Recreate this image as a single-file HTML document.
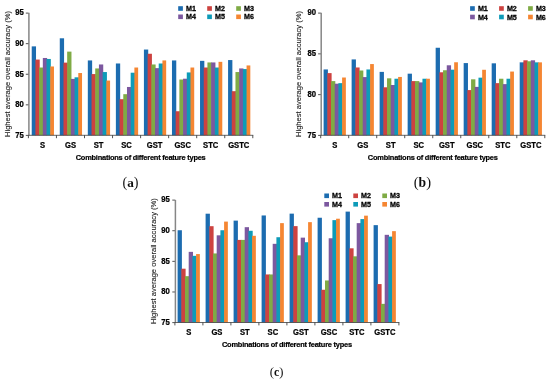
<!DOCTYPE html>
<html lang="en">
<head>
<meta charset="utf-8">
<title>Highest average overall accuracy for combinations of different feature types</title>
<style>
html,body{margin:0;padding:0;background:#fff;}
body{width:550px;height:383px;overflow:hidden;}
svg{display:block;}
text{font-family:"Liberation Sans", Arial, Helvetica, sans-serif;fill:#000;}
.tk{font-size:8.4px;font-weight:bold;stroke:#000;stroke-width:0.24px;}
.ct{font-size:8.3px;font-weight:bold;stroke:#000;stroke-width:0.24px;}
.xt{font-size:8.1px;font-weight:bold;stroke:#000;stroke-width:0.22px;letter-spacing:-0.25px;}
.yt{font-size:7.58px;fill:#222;stroke:#222;stroke-width:0.12px;}
.lg{font-size:7.8px;font-weight:bold;stroke:#000;stroke-width:0.3px;}
.cp{font-family:"Liberation Serif", "Times New Roman", serif;fill:#111;}
.pr{font-size:1.07em;}
</style>
</head>
<body>
<svg width="550" height="383" viewBox="0 0 550 383">
<defs><filter id="soft" x="0" y="0" width="550" height="383" filterUnits="userSpaceOnUse"><feGaussianBlur stdDeviation="0.36"/></filter></defs>
<rect width="550" height="383" fill="#ffffff"/>
<g filter="url(#soft)">
<g>
<rect x="31.72" y="46.37" width="4.3" height="89.03" fill="#1c6cb0"/>
<rect x="35.42" y="59.57" width="4.3" height="75.83" fill="#cd423f"/>
<rect x="39.12" y="67.52" width="4.3" height="67.88" fill="#7fab44"/>
<rect x="42.83" y="57.98" width="4.3" height="77.42" fill="#7b589f"/>
<rect x="46.52" y="58.96" width="4.3" height="76.44" fill="#119bb8"/>
<rect x="50.22" y="66.48" width="3.75" height="68.92" fill="#f58632"/>
<rect x="59.77" y="38.29" width="4.3" height="97.11" fill="#1c6cb0"/>
<rect x="63.48" y="62.63" width="4.3" height="72.77" fill="#cd423f"/>
<rect x="67.17" y="51.62" width="4.3" height="83.78" fill="#7fab44"/>
<rect x="70.88" y="78.9" width="4.3" height="56.5" fill="#7b589f"/>
<rect x="74.58" y="77.31" width="4.3" height="58.09" fill="#119bb8"/>
<rect x="78.28" y="73.03" width="3.75" height="62.37" fill="#f58632"/>
<rect x="87.83" y="60.43" width="4.3" height="74.97" fill="#1c6cb0"/>
<rect x="91.53" y="74.07" width="4.3" height="61.33" fill="#cd423f"/>
<rect x="95.23" y="68.44" width="4.3" height="66.96" fill="#7fab44"/>
<rect x="98.93" y="64.47" width="4.3" height="70.93" fill="#7b589f"/>
<rect x="102.62" y="72.05" width="4.3" height="63.35" fill="#119bb8"/>
<rect x="106.33" y="80.55" width="3.75" height="54.85" fill="#f58632"/>
<rect x="115.88" y="63.49" width="4.3" height="71.91" fill="#1c6cb0"/>
<rect x="119.58" y="99.2" width="4.3" height="36.2" fill="#cd423f"/>
<rect x="123.28" y="94.18" width="4.3" height="41.22" fill="#7fab44"/>
<rect x="126.98" y="86.97" width="4.3" height="48.43" fill="#7b589f"/>
<rect x="130.68" y="72.72" width="4.3" height="62.68" fill="#119bb8"/>
<rect x="134.38" y="67.52" width="3.75" height="67.88" fill="#f58632"/>
<rect x="143.92" y="49.55" width="4.3" height="85.85" fill="#1c6cb0"/>
<rect x="147.62" y="53.76" width="4.3" height="81.64" fill="#cd423f"/>
<rect x="151.32" y="64.47" width="4.3" height="70.93" fill="#7fab44"/>
<rect x="155.02" y="68.14" width="4.3" height="67.27" fill="#7b589f"/>
<rect x="158.72" y="63.49" width="4.3" height="71.91" fill="#119bb8"/>
<rect x="162.42" y="60.43" width="3.75" height="74.97" fill="#f58632"/>
<rect x="171.97" y="60.43" width="4.3" height="74.97" fill="#1c6cb0"/>
<rect x="175.67" y="111.25" width="4.3" height="24.15" fill="#cd423f"/>
<rect x="179.38" y="79.51" width="4.3" height="55.89" fill="#7fab44"/>
<rect x="183.07" y="78.71" width="4.3" height="56.69" fill="#7b589f"/>
<rect x="186.78" y="72.42" width="4.3" height="62.98" fill="#119bb8"/>
<rect x="190.47" y="67.52" width="3.75" height="67.88" fill="#f58632"/>
<rect x="200.03" y="60.86" width="4.3" height="74.54" fill="#1c6cb0"/>
<rect x="203.72" y="67.52" width="4.3" height="67.88" fill="#cd423f"/>
<rect x="207.43" y="62.45" width="4.3" height="72.95" fill="#7fab44"/>
<rect x="211.12" y="62.45" width="4.3" height="72.95" fill="#7b589f"/>
<rect x="214.83" y="67.52" width="4.3" height="67.88" fill="#119bb8"/>
<rect x="218.53" y="61.84" width="3.75" height="73.56" fill="#f58632"/>
<rect x="228.07" y="60.06" width="4.3" height="75.34" fill="#1c6cb0"/>
<rect x="231.77" y="91.19" width="4.3" height="44.21" fill="#cd423f"/>
<rect x="235.47" y="72.05" width="4.3" height="63.35" fill="#7fab44"/>
<rect x="239.17" y="68.44" width="4.3" height="66.96" fill="#7b589f"/>
<rect x="242.88" y="69.05" width="4.3" height="66.35" fill="#119bb8"/>
<rect x="246.57" y="65.44" width="3.75" height="69.96" fill="#f58632"/>
<path d="M28.9 12.8V135.6" fill="none" stroke="#868686" stroke-width="1.5"/>
<path d="M28.2 135.3H253.2" fill="none" stroke="#4a4a4a" stroke-width="0.85"/>
<text transform="translate(23.9 137.7) scale(0.92 1)" text-anchor="end" class="tk">75</text>
<text transform="translate(23.9 107.12) scale(0.92 1)" text-anchor="end" class="tk">80</text>
<text transform="translate(23.9 76.55) scale(0.92 1)" text-anchor="end" class="tk">85</text>
<text transform="translate(23.9 45.97) scale(0.92 1)" text-anchor="end" class="tk">90</text>
<text transform="translate(23.9 15.4) scale(0.92 1)" text-anchor="end" class="tk">95</text>
<path d="M28.4 135.4h-2.6M28.4 104.83h-2.6M28.4 74.25h-2.6M28.4 43.67h-2.6M28.4 13.1h-2.6M28.4 135.1v3.1M56.45 135.1v3.1M84.5 135.1v3.1M112.55 135.1v3.1M140.6 135.1v3.1M168.65 135.1v3.1M196.7 135.1v3.1M224.75 135.1v3.1M252.8 135.1v3.1" fill="none" stroke="#4a4a4a" stroke-width="0.95"/>
<text transform="translate(42.42 147.5) scale(0.92 1)" text-anchor="middle" class="ct">S</text>
<text transform="translate(70.47 147.5) scale(0.92 1)" text-anchor="middle" class="ct">GS</text>
<text transform="translate(98.53 147.5) scale(0.92 1)" text-anchor="middle" class="ct">ST</text>
<text transform="translate(126.57 147.5) scale(0.92 1)" text-anchor="middle" class="ct">SC</text>
<text transform="translate(154.62 147.5) scale(0.92 1)" text-anchor="middle" class="ct">GST</text>
<text transform="translate(182.68 147.5) scale(0.92 1)" text-anchor="middle" class="ct">GSC</text>
<text transform="translate(210.73 147.5) scale(0.92 1)" text-anchor="middle" class="ct">STC</text>
<text transform="translate(238.78 147.5) scale(0.92 1)" text-anchor="middle" class="ct">GSTC</text>
<text transform="translate(140.6 159.5) scale(0.92 1)" text-anchor="middle" class="xt">Combinations of different feature types</text>
<text transform="translate(9.6 74.05) rotate(-90)" text-anchor="middle" class="yt">Highest average overall accuracy (%)</text>
<rect x="178.2" y="6.2" width="4.7" height="4.6" fill="#1c6cb0"/>
<text transform="translate(186 11) scale(0.92 1)" class="lg">M1</text>
<rect x="207.2" y="6.2" width="4.7" height="4.6" fill="#cd423f"/>
<text transform="translate(215 11) scale(0.92 1)" class="lg">M2</text>
<rect x="236.2" y="6.2" width="4.7" height="4.6" fill="#7fab44"/>
<text transform="translate(244 11) scale(0.92 1)" class="lg">M3</text>
<rect x="178.2" y="14.5" width="4.7" height="4.6" fill="#7b589f"/>
<text transform="translate(186 19.3) scale(0.92 1)" class="lg">M4</text>
<rect x="207.2" y="14.5" width="4.7" height="4.6" fill="#119bb8"/>
<text transform="translate(215 19.3) scale(0.92 1)" class="lg">M5</text>
<rect x="236.2" y="14.5" width="4.7" height="4.6" fill="#f58632"/>
<text transform="translate(244 19.3) scale(0.92 1)" class="lg">M6</text>
<text x="130.5" y="186.6" text-anchor="middle" class="cp" font-size="13.2"><tspan class="pr">(</tspan><tspan font-weight="bold">a</tspan><tspan class="pr">)</tspan></text>
</g>
<g>
<rect x="323.61" y="69.44" width="4.3" height="65.96" fill="#1c6cb0"/>
<rect x="327.31" y="73.11" width="4.3" height="62.29" fill="#cd423f"/>
<rect x="331.01" y="81.1" width="4.3" height="54.3" fill="#7fab44"/>
<rect x="334.71" y="83.71" width="4.3" height="51.69" fill="#7b589f"/>
<rect x="338.41" y="83.14" width="4.3" height="52.26" fill="#119bb8"/>
<rect x="342.11" y="77.51" width="3.75" height="57.89" fill="#f58632"/>
<rect x="351.62" y="59.41" width="4.3" height="75.99" fill="#1c6cb0"/>
<rect x="355.32" y="67.48" width="4.3" height="67.92" fill="#cd423f"/>
<rect x="359.02" y="70.5" width="4.3" height="64.9" fill="#7fab44"/>
<rect x="362.72" y="77.1" width="4.3" height="58.3" fill="#7b589f"/>
<rect x="366.42" y="69.44" width="4.3" height="65.96" fill="#119bb8"/>
<rect x="370.12" y="64.06" width="3.75" height="71.34" fill="#f58632"/>
<rect x="379.63" y="71.89" width="4.3" height="63.51" fill="#1c6cb0"/>
<rect x="383.33" y="87.3" width="4.3" height="48.1" fill="#cd423f"/>
<rect x="387.03" y="78.33" width="4.3" height="57.07" fill="#7fab44"/>
<rect x="390.73" y="85.01" width="4.3" height="50.39" fill="#7b589f"/>
<rect x="394.43" y="78.73" width="4.3" height="56.67" fill="#119bb8"/>
<rect x="398.13" y="76.94" width="3.75" height="58.46" fill="#f58632"/>
<rect x="407.64" y="73.68" width="4.3" height="61.72" fill="#1c6cb0"/>
<rect x="411.34" y="81.1" width="4.3" height="54.3" fill="#cd423f"/>
<rect x="415.04" y="81.1" width="4.3" height="54.3" fill="#7fab44"/>
<rect x="418.74" y="82.4" width="4.3" height="53" fill="#7b589f"/>
<rect x="422.44" y="78.73" width="4.3" height="56.67" fill="#119bb8"/>
<rect x="426.14" y="78.73" width="3.75" height="56.67" fill="#f58632"/>
<rect x="435.66" y="47.75" width="4.3" height="87.65" fill="#1c6cb0"/>
<rect x="439.36" y="72.29" width="4.3" height="63.11" fill="#cd423f"/>
<rect x="443.06" y="70.25" width="4.3" height="65.15" fill="#7fab44"/>
<rect x="446.76" y="65.28" width="4.3" height="70.12" fill="#7b589f"/>
<rect x="450.46" y="69.68" width="4.3" height="65.72" fill="#119bb8"/>
<rect x="454.16" y="62.26" width="3.75" height="73.14" fill="#f58632"/>
<rect x="463.67" y="63.08" width="4.3" height="72.32" fill="#1c6cb0"/>
<rect x="467.37" y="90.07" width="4.3" height="45.33" fill="#cd423f"/>
<rect x="471.07" y="79.31" width="4.3" height="56.09" fill="#7fab44"/>
<rect x="474.77" y="86.89" width="4.3" height="48.51" fill="#7b589f"/>
<rect x="478.47" y="77.67" width="4.3" height="57.73" fill="#119bb8"/>
<rect x="482.17" y="69.77" width="3.75" height="65.63" fill="#f58632"/>
<rect x="491.68" y="63.32" width="4.3" height="72.08" fill="#1c6cb0"/>
<rect x="495.38" y="83.14" width="4.3" height="52.26" fill="#cd423f"/>
<rect x="499.08" y="78.73" width="4.3" height="56.67" fill="#7fab44"/>
<rect x="502.78" y="84.12" width="4.3" height="51.28" fill="#7b589f"/>
<rect x="506.48" y="78.73" width="4.3" height="56.67" fill="#119bb8"/>
<rect x="510.18" y="71.56" width="3.75" height="63.84" fill="#f58632"/>
<rect x="519.69" y="62.35" width="4.3" height="73.05" fill="#1c6cb0"/>
<rect x="523.39" y="60.31" width="4.3" height="75.09" fill="#cd423f"/>
<rect x="527.09" y="61.29" width="4.3" height="74.11" fill="#7fab44"/>
<rect x="530.79" y="60.31" width="4.3" height="75.09" fill="#7b589f"/>
<rect x="534.49" y="62.35" width="4.3" height="73.05" fill="#119bb8"/>
<rect x="538.19" y="62.35" width="3.75" height="73.05" fill="#f58632"/>
<path d="M321.2 12.8V135.6" fill="none" stroke="#868686" stroke-width="1.5"/>
<path d="M320.5 135.3H545.2" fill="none" stroke="#4a4a4a" stroke-width="0.85"/>
<text transform="translate(316 137.7) scale(0.92 1)" text-anchor="end" class="tk">75</text>
<text transform="translate(316 96.93) scale(0.92 1)" text-anchor="end" class="tk">80</text>
<text transform="translate(316 56.17) scale(0.92 1)" text-anchor="end" class="tk">85</text>
<text transform="translate(316 15.4) scale(0.92 1)" text-anchor="end" class="tk">90</text>
<path d="M320.7 135.4h-2.6M320.7 94.63h-2.6M320.7 53.87h-2.6M320.7 13.1h-2.6M320.7 135.1v3.1M348.71 135.1v3.1M376.72 135.1v3.1M404.74 135.1v3.1M432.75 135.1v3.1M460.76 135.1v3.1M488.77 135.1v3.1M516.79 135.1v3.1M544.8 135.1v3.1" fill="none" stroke="#4a4a4a" stroke-width="0.95"/>
<text transform="translate(334.71 147.5) scale(0.92 1)" text-anchor="middle" class="ct">S</text>
<text transform="translate(362.72 147.5) scale(0.92 1)" text-anchor="middle" class="ct">GS</text>
<text transform="translate(390.73 147.5) scale(0.92 1)" text-anchor="middle" class="ct">ST</text>
<text transform="translate(418.74 147.5) scale(0.92 1)" text-anchor="middle" class="ct">SC</text>
<text transform="translate(446.76 147.5) scale(0.92 1)" text-anchor="middle" class="ct">GST</text>
<text transform="translate(474.77 147.5) scale(0.92 1)" text-anchor="middle" class="ct">GSC</text>
<text transform="translate(502.78 147.5) scale(0.92 1)" text-anchor="middle" class="ct">STC</text>
<text transform="translate(530.79 147.5) scale(0.92 1)" text-anchor="middle" class="ct">GSTC</text>
<text transform="translate(432.75 159.5) scale(0.92 1)" text-anchor="middle" class="xt">Combinations of different feature types</text>
<text transform="translate(300.6 74.05) rotate(-90)" text-anchor="middle" class="yt">Highest average overall accuracy (%)</text>
<rect x="470.1" y="6.2" width="4.7" height="4.6" fill="#1c6cb0"/>
<text transform="translate(477.9 11) scale(0.92 1)" class="lg">M1</text>
<rect x="499.1" y="6.2" width="4.7" height="4.6" fill="#cd423f"/>
<text transform="translate(506.9 11) scale(0.92 1)" class="lg">M2</text>
<rect x="528.1" y="6.2" width="4.7" height="4.6" fill="#7fab44"/>
<text transform="translate(535.9 11) scale(0.92 1)" class="lg">M3</text>
<rect x="470.1" y="14.7" width="4.7" height="4.6" fill="#7b589f"/>
<text transform="translate(477.9 19.5) scale(0.92 1)" class="lg">M4</text>
<rect x="499.1" y="14.7" width="4.7" height="4.6" fill="#119bb8"/>
<text transform="translate(506.9 19.5) scale(0.92 1)" class="lg">M5</text>
<rect x="528.1" y="14.7" width="4.7" height="4.6" fill="#f58632"/>
<text transform="translate(535.9 19.5) scale(0.92 1)" class="lg">M6</text>
<text x="422.4" y="186.6" text-anchor="middle" class="cp" font-size="13.6"><tspan class="pr">(</tspan><tspan font-weight="bold">b</tspan><tspan class="pr">)</tspan></text>
</g>
<g>
<rect x="177.6" y="230.24" width="4.3" height="92.37" fill="#1c6cb0"/>
<rect x="181.3" y="268.7" width="4.3" height="53.9" fill="#cd423f"/>
<rect x="185" y="276.17" width="4.3" height="46.43" fill="#7fab44"/>
<rect x="188.7" y="251.86" width="4.3" height="70.74" fill="#7b589f"/>
<rect x="192.4" y="255.84" width="4.3" height="66.76" fill="#119bb8"/>
<rect x="196.1" y="254.06" width="3.75" height="68.54" fill="#f58632"/>
<rect x="205.6" y="213.7" width="4.3" height="108.9" fill="#1c6cb0"/>
<rect x="209.3" y="226.19" width="4.3" height="96.41" fill="#cd423f"/>
<rect x="213" y="253.45" width="4.3" height="69.15" fill="#7fab44"/>
<rect x="216.7" y="235.32" width="4.3" height="87.28" fill="#7b589f"/>
<rect x="220.4" y="230.24" width="4.3" height="92.37" fill="#119bb8"/>
<rect x="224.1" y="221.6" width="3.75" height="101" fill="#f58632"/>
<rect x="233.6" y="220.62" width="4.3" height="101.98" fill="#1c6cb0"/>
<rect x="237.3" y="239.91" width="4.3" height="82.69" fill="#cd423f"/>
<rect x="241" y="239.91" width="4.3" height="82.69" fill="#7fab44"/>
<rect x="244.7" y="227.17" width="4.3" height="95.43" fill="#7b589f"/>
<rect x="248.4" y="230.79" width="4.3" height="91.81" fill="#119bb8"/>
<rect x="252.1" y="235.81" width="3.75" height="86.79" fill="#f58632"/>
<rect x="261.6" y="215.47" width="4.3" height="107.13" fill="#1c6cb0"/>
<rect x="265.3" y="274.46" width="4.3" height="48.14" fill="#cd423f"/>
<rect x="269" y="274.46" width="4.3" height="48.14" fill="#7fab44"/>
<rect x="272.7" y="243.83" width="4.3" height="78.77" fill="#7b589f"/>
<rect x="276.4" y="237.22" width="4.3" height="85.38" fill="#119bb8"/>
<rect x="280.1" y="223.13" width="3.75" height="99.47" fill="#f58632"/>
<rect x="289.6" y="213.64" width="4.3" height="108.96" fill="#1c6cb0"/>
<rect x="293.3" y="226.13" width="4.3" height="96.47" fill="#cd423f"/>
<rect x="297" y="255.35" width="4.3" height="67.25" fill="#7fab44"/>
<rect x="300.7" y="237.65" width="4.3" height="84.95" fill="#7b589f"/>
<rect x="304.4" y="242.24" width="4.3" height="80.36" fill="#119bb8"/>
<rect x="308.1" y="222.15" width="3.75" height="100.45" fill="#f58632"/>
<rect x="317.6" y="217.74" width="4.3" height="104.86" fill="#1c6cb0"/>
<rect x="321.3" y="289.77" width="4.3" height="32.83" fill="#cd423f"/>
<rect x="325" y="280.46" width="4.3" height="42.14" fill="#7fab44"/>
<rect x="328.7" y="238.26" width="4.3" height="84.34" fill="#7b589f"/>
<rect x="332.4" y="220.13" width="4.3" height="102.47" fill="#119bb8"/>
<rect x="336.1" y="218.72" width="3.75" height="103.88" fill="#f58632"/>
<rect x="345.6" y="211.61" width="4.3" height="110.99" fill="#1c6cb0"/>
<rect x="349.3" y="248.3" width="4.3" height="74.3" fill="#cd423f"/>
<rect x="353" y="256.33" width="4.3" height="66.27" fill="#7fab44"/>
<rect x="356.7" y="223.13" width="4.3" height="99.47" fill="#7b589f"/>
<rect x="360.4" y="219.09" width="4.3" height="103.51" fill="#119bb8"/>
<rect x="364.1" y="215.66" width="3.75" height="106.94" fill="#f58632"/>
<rect x="373.6" y="225.15" width="4.3" height="97.45" fill="#1c6cb0"/>
<rect x="377.3" y="284.07" width="4.3" height="38.53" fill="#cd423f"/>
<rect x="381" y="303.86" width="4.3" height="18.74" fill="#7fab44"/>
<rect x="384.7" y="234.83" width="4.3" height="87.77" fill="#7b589f"/>
<rect x="388.4" y="236.6" width="4.3" height="86" fill="#119bb8"/>
<rect x="392.1" y="231.15" width="3.75" height="91.45" fill="#f58632"/>
<path d="M175.4 199.8V322.8" fill="none" stroke="#868686" stroke-width="1.5"/>
<path d="M174.7 322.5H399.3" fill="none" stroke="#4a4a4a" stroke-width="0.85"/>
<text transform="translate(169.9 324.9) scale(0.92 1)" text-anchor="end" class="tk">75</text>
<text transform="translate(169.9 294.28) scale(0.92 1)" text-anchor="end" class="tk">80</text>
<text transform="translate(169.9 263.65) scale(0.92 1)" text-anchor="end" class="tk">85</text>
<text transform="translate(169.9 233.03) scale(0.92 1)" text-anchor="end" class="tk">90</text>
<text transform="translate(169.9 202.4) scale(0.92 1)" text-anchor="end" class="tk">95</text>
<path d="M174.9 322.6h-2.6M174.9 291.98h-2.6M174.9 261.35h-2.6M174.9 230.72h-2.6M174.9 200.1h-2.6M174.9 322.3v3.1M202.9 322.3v3.1M230.9 322.3v3.1M258.9 322.3v3.1M286.9 322.3v3.1M314.9 322.3v3.1M342.9 322.3v3.1M370.9 322.3v3.1M398.9 322.3v3.1" fill="none" stroke="#4a4a4a" stroke-width="0.95"/>
<text transform="translate(188.9 334.7) scale(0.92 1)" text-anchor="middle" class="ct">S</text>
<text transform="translate(216.9 334.7) scale(0.92 1)" text-anchor="middle" class="ct">GS</text>
<text transform="translate(244.9 334.7) scale(0.92 1)" text-anchor="middle" class="ct">ST</text>
<text transform="translate(272.9 334.7) scale(0.92 1)" text-anchor="middle" class="ct">SC</text>
<text transform="translate(300.9 334.7) scale(0.92 1)" text-anchor="middle" class="ct">GST</text>
<text transform="translate(328.9 334.7) scale(0.92 1)" text-anchor="middle" class="ct">GSC</text>
<text transform="translate(356.9 334.7) scale(0.92 1)" text-anchor="middle" class="ct">STC</text>
<text transform="translate(384.9 334.7) scale(0.92 1)" text-anchor="middle" class="ct">GSTC</text>
<text transform="translate(286.9 346.7) scale(0.92 1)" text-anchor="middle" class="xt">Combinations of different feature types</text>
<text transform="translate(155.5 261.15) rotate(-90)" text-anchor="middle" class="yt">Highest average overall accuracy (%)</text>
<rect x="324.3" y="193.5" width="4.7" height="4.6" fill="#1c6cb0"/>
<text transform="translate(332.1 198.3) scale(0.92 1)" class="lg">M1</text>
<rect x="353.3" y="193.5" width="4.7" height="4.6" fill="#cd423f"/>
<text transform="translate(361.1 198.3) scale(0.92 1)" class="lg">M2</text>
<rect x="382.3" y="193.5" width="4.7" height="4.6" fill="#7fab44"/>
<text transform="translate(390.1 198.3) scale(0.92 1)" class="lg">M3</text>
<rect x="324.3" y="202" width="4.7" height="4.6" fill="#7b589f"/>
<text transform="translate(332.1 206.8) scale(0.92 1)" class="lg">M4</text>
<rect x="353.3" y="202" width="4.7" height="4.6" fill="#119bb8"/>
<text transform="translate(361.1 206.8) scale(0.92 1)" class="lg">M5</text>
<rect x="382.3" y="202" width="4.7" height="4.6" fill="#f58632"/>
<text transform="translate(390.1 206.8) scale(0.92 1)" class="lg">M6</text>
<text x="276.6" y="376" text-anchor="middle" class="cp" font-size="11.8"><tspan class="pr">(</tspan><tspan font-weight="bold">c</tspan><tspan class="pr">)</tspan></text>
</g>
</g>
</svg>
</body>
</html>
